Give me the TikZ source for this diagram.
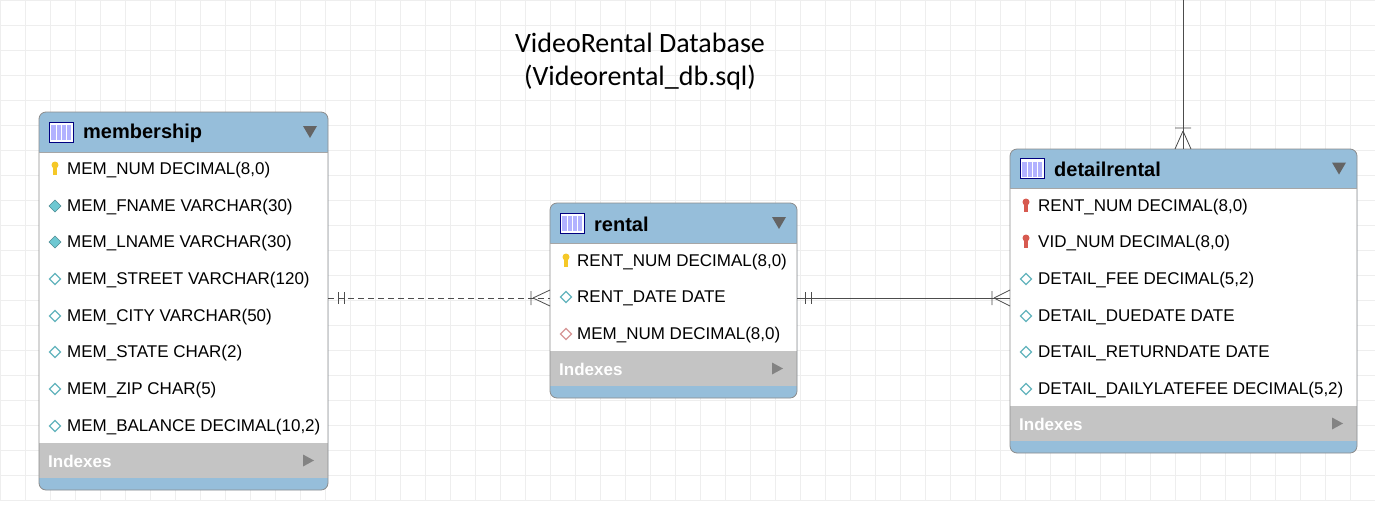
\documentclass[tikz,border=0pt]{standalone}
\usepackage{fontspec}
\setmainfont{Liberation Sans}
\newfontfamily\titlefont{Carlito}
\definecolor{hdr}{RGB}{150,190,218}
\definecolor{idx}{RGB}{196,196,196}
\definecolor{tri}{RGB}{100,100,100}
\definecolor{keyy}{RGB}{245,200,40}
\definecolor{keyr}{RGB}{215,90,80}
\definecolor{dcyan}{RGB}{110,200,210}
\definecolor{dpink}{RGB}{215,150,150}
\definecolor{gridc}{RGB}{238,238,238}
\tikzset{
 row/.style={anchor=west,inner sep=0pt,font=\fontsize{17}{17}\selectfont},
 ttl/.style={anchor=west,inner sep=0pt,font=\bfseries\fontsize{20}{20}\selectfont},
 idxt/.style={anchor=west,inner sep=0pt,text=white,font=\bfseries\fontsize{17}{17}\selectfont},
 tblarea/.style={inner sep=0pt,draw=none},
 conn/.style={draw=black!70,line width=0.8pt},
}
\newcommand\ykey[2]{\fill[keyy] (#1,#2-4) circle (3.5);\fill[keyy] (#1-1.6,#2-2) rectangle (#1+1.6,#2+6);}
\newcommand\rkey[2]{\fill[keyr] (#1,#2-4) circle (3.5);\fill[keyr] (#1-1.6,#2-2) rectangle (#1+1.6,#2+6);}
\newcommand\cdia[2]{\fill[dcyan,draw=dcyan!70!black,line width=0.4pt] (#1-6,#2)--(#1,#2-6)--(#1+6,#2)--(#1,#2+6)--cycle;}
\newcommand\hdia[2]{\draw[dcyan!90!black,line width=1.1pt,fill=white] (#1-5.5,#2)--(#1,#2-5.5)--(#1+5.5,#2)--(#1,#2+5.5)--cycle;}
\newcommand\pdia[2]{\draw[dpink,line width=1.1pt,fill=white] (#1-5.5,#2)--(#1,#2-5.5)--(#1+5.5,#2)--(#1,#2+5.5)--cycle;}
\newcommand\tablebox[9]{% name x1 y1 x2 yh yi yb y2 title
 \fill[hdr,rounded corners=7pt] (#2,#3) rectangle (#4,#8);
 \fill[white] (#2,#5) rectangle (#4,#6);
 \fill[idx] (#2,#6) rectangle (#4,#7);
 \draw[black!45,line width=0.8pt,rounded corners=7pt] (#2,#3) rectangle (#4,#8);
 \draw[black!35,line width=0.6pt] (#2,#5) -- (#4,#5);
 \node[tblarea,minimum width={#4-#2},minimum height={#8-#3}] (#1) at ({(#2+#4)/2},{(#3+#8)/2}) {};
 \fill[white,draw=blue!50!black,line width=0.6pt] (#2+10,{(#3+#5)/2-10}) rectangle (#2+34,{(#3+#5)/2+10});
 \fill[blue!30] (#2+12,{(#3+#5)/2-7}) rectangle (#2+32,{(#3+#5)/2+8});
 \foreach \k in {1,2,3}{\draw[white,line width=0.5pt] (#2+12+5*\k,{(#3+#5)/2-7}) -- (#2+12+5*\k,{(#3+#5)/2+8});}
 \node[ttl] at (#2+44,{(#3+#5)/2+1}) {#9};
 \fill[tri] (#4-25,{(#3+#5)/2-6}) -- (#4-11,{(#3+#5)/2-6}) -- (#4-18,{(#3+#5)/2+6}) -- cycle;
 \node[idxt] at (#2+9,{(#6+#7)/2+1}) {Indexes};
 \fill[tri!80] (#4-25,{(#6+#7)/2-6}) -- (#4-25,{(#6+#7)/2+6}) -- (#4-14,{(#6+#7)/2}) -- cycle;
}
\begin{document}
\begin{tikzpicture}[x=1pt,y=-1pt]
\useasboundingbox (0,0) rectangle (1375,531);
\fill[white] (0,0) rectangle (1375,531);
\foreach \x in {0,25,...,1375}{\draw[gridc,line width=0.5pt] (\x,0)--(\x,500);}
\foreach \y in {0,25,...,500}{\draw[gridc,line width=0.5pt] (0,\y)--(1375,\y);}
\node[font=\titlefont\fontsize{28}{33}\selectfont,align=center] (title) at (640,62) {VideoRental Database\\(Videorental\_db.sql)};
% membership
\tablebox{mem}{39}{112}{328}{152}{443}{478}{490}{membership}
\ykey{55}{169}\node[row] (m1) at (67,170) {MEM\_NUM DECIMAL(8,0)};
\cdia{55}{206}\node[row] (m2) at (67,207) {MEM\_FNAME VARCHAR(30)};
\cdia{55}{242}\node[row] (m3) at (67,243) {MEM\_LNAME VARCHAR(30)};
\hdia{55}{279}\node[row] (m4) at (67,280) {MEM\_STREET VARCHAR(120)};
\hdia{55}{316}\node[row] (m5) at (67,317) {MEM\_CITY VARCHAR(50)};
\hdia{55}{352}\node[row] (m6) at (67,353) {MEM\_STATE CHAR(2)};
\hdia{55}{389}\node[row] (m7) at (67,390) {MEM\_ZIP CHAR(5)};
\hdia{55}{426}\node[row] (m8) at (67,427) {MEM\_BALANCE DECIMAL(10,2)};
% rental
\tablebox{ren}{550}{203}{797}{243}{351}{386}{398}{rental}
\ykey{566}{261}\node[row] (r1) at (577,262) {RENT\_NUM DECIMAL(8,0)};
\hdia{566}{297}\node[row] (r2) at (577,298) {RENT\_DATE DATE};
\pdia{566}{334}\node[row] (r3) at (577,335) {MEM\_NUM DECIMAL(8,0)};
% detailrental
\tablebox{det}{1010}{149}{1357}{188}{406}{441}{453}{detailrental}
\rkey{1026}{206}\node[row] (d1) at (1038,207) {RENT\_NUM DECIMAL(8,0)};
\rkey{1026}{242}\node[row] (d2) at (1038,243) {VID\_NUM DECIMAL(8,0)};
\hdia{1026}{279}\node[row] (d3) at (1038,280) {DETAIL\_FEE DECIMAL(5,2)};
\hdia{1026}{316}\node[row] (d4) at (1038,317) {DETAIL\_DUEDATE DATE};
\hdia{1026}{352}\node[row] (d5) at (1038,353) {DETAIL\_RETURNDATE DATE};
\hdia{1026}{389}\node[row] (d6) at (1038,390) {DETAIL\_DAILYLATEFEE DECIMAL(5,2)};
% connectors
\draw[conn,dash pattern=on 6pt off 4pt] (mem.east|-0,298) -- (ren.west|-0,298);
\draw[conn] (338,292)--(338,304) (344,292)--(344,304);
\draw[conn] (531,291)--(531,305) (533,298)--(550,290) (533,298)--(550,306);
\draw[conn] (ren.east|-0,298) -- (det.west|-0,298);
\draw[conn] (805,292)--(805,304) (811,292)--(811,304);
\draw[conn] (992,291)--(992,305) (994,298)--(1010,290) (994,298)--(1010,306);
\coordinate (topend) at (1183,0);
\draw[conn] (topend) -- (det.north-|topend);
\draw[conn] (1175,128)--(1191,128) (1183,131)--(1175,149) (1183,131)--(1191,149);
\end{tikzpicture}
\end{document}
